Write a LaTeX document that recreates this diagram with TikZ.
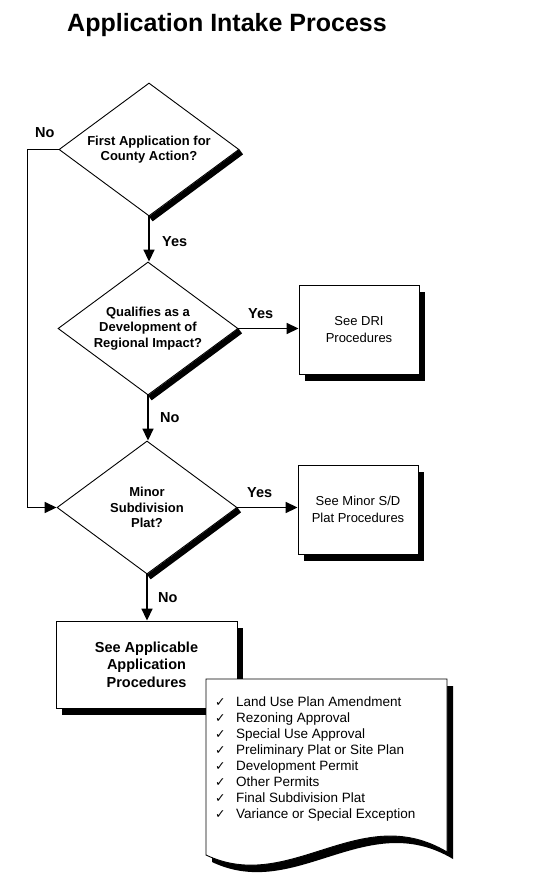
\documentclass[tikz,border=0pt]{standalone}
\usepackage{fontspec}
\setmainfont{Liberation Sans}
\newfontfamily\ckfont{DejaVu Sans}
\usetikzlibrary{shapes.geometric,arrows.meta,calc,shadows}
\begin{document}
\begin{tikzpicture}[x=1pt,y=-1pt,
  dec/.style={diamond, draw, line width=0.9pt, fill=white, minimum width=180pt,
    minimum height=133pt, inner sep=0pt, aspect=1.35, align=center,
    font=\fontsize{13}{15.5}\selectfont\bfseries},
  pbox/.style={rectangle, draw, line width=0.9pt, fill=white, minimum width=120pt,
    minimum height=89pt, inner sep=0pt, align=center,
    font=\fontsize{13}{16.5}\selectfont,
    drop shadow={shadow xshift=6pt, shadow yshift=-7pt, fill=black, opacity=1}},
  bbox/.style={pbox, minimum width=181pt, minimum height=87pt,
    font=\fontsize{14.5}{17.5}\selectfont\bfseries},
  conn/.style={line width=1.7pt, -{Triangle[length=12pt,width=11pt]}},
  lbl/.style={anchor=base west, inner sep=0pt, font=\fontsize{14.5}{17}\selectfont\bfseries},
  item/.style={anchor=base west, inner sep=0pt, font=\fontsize{13.5}{16}\selectfont},
  ck/.style={anchor=base west, inner sep=0pt, font=\fontsize{12.5}{14}\ckfont},
  shade/.style={fill=black}
]
\useasboundingbox (0,0) rectangle (541,885);

% title
\node[anchor=base west, inner sep=0pt, font=\fontsize{25}{30}\selectfont\bfseries]
  (title) at (67,32) {Application Intake Process};

% decisions
\node[dec] (d1) at (149,149.5) {First Application for\\County Action?};
\fill[shade] (d1.east) -- ($(d1.east)+(3.6,4.9)$) -- ($(d1.south)+(3.6,4.9)$) -- (d1.south) -- cycle;

\node[dec] (d2) at (148,328.5) {Qualifies as a\\Development of\\Regional Impact?};
\fill[shade] (d2.east) -- ($(d2.east)+(3.6,4.9)$) -- ($(d2.south)+(3.6,4.9)$) -- (d2.south) -- cycle;

\node[dec] (d3) at (147,507.5) {Minor\\Subdivision\\Plat?};
\fill[shade] (d3.east) -- ($(d3.east)+(3.6,4.9)$) -- ($(d3.south)+(3.6,4.9)$) -- (d3.south) -- cycle;

% process boxes
\node[pbox] (dri) at (359,329.5) {See DRI\\Procedures};
\node[pbox] (minor) at (358,509.5) {See Minor S/D\\Plat Procedures};
\node[bbox] (app) at (146.5,664.5) {See Applicable\\Application\\Procedures};

% connectors
\draw[conn] (d1.south) -- (d1.south |- d2.north);
\draw[conn] (d2.south) -- (d2.south |- d3.north);
\draw[conn] (d3.south) -- (d3.south |- app.north);
\draw[conn] (d2.east) -- (d2.east -| dri.west);
\draw[conn] (d3.east) -- (d3.east -| minor.west);
\draw[conn] (d1.west) -- ++(-31,0) |- (d3.west);

% labels
\node[lbl] (lno1) at (35,138) {No};
\node[lbl] (lyes1) at (162,247) {Yes};
\node[lbl] (lyes2) at (248,318) {Yes};
\node[lbl] (lno2) at (160,422) {No};
\node[lbl] (lyes3) at (247,497) {Yes};
\node[lbl] (lno3) at (158,602) {No};

% document shape with list
\fill[shade, shift={(6,7)}] (206,679) -- (447,679) -- (447,852)
  .. controls (360,800) and (290,895) .. (206,855) -- cycle;
\filldraw[fill=white, line width=0.9pt] (206,679) -- (447,679) -- (447,852)
  .. controls (360,800) and (290,895) .. (206,855) -- cycle;

\foreach \txt [count=\i] in {Land Use Plan Amendment, Rezoning Approval,
  Special Use Approval, Preliminary Plat or Site Plan, Development Permit,
  Other Permits, Final Subdivision Plat, Variance or Special Exception} {
  \node[item] (it\i) at (236,{706+16*(\i-1)}) {\txt};
  \node[ck] (ck\i) at (215,{706+16*(\i-1)}) {✓};
}
\end{tikzpicture}
\end{document}
